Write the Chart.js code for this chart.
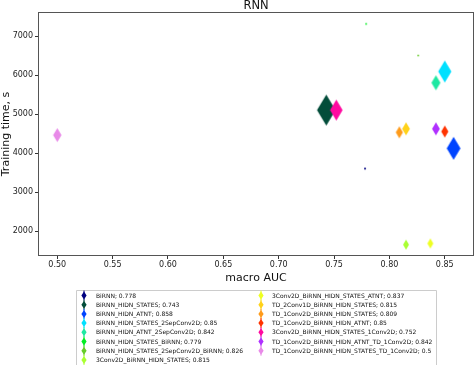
<!DOCTYPE html>
<html><head><meta charset="utf-8">
<script src="https://cdn.jsdelivr.net/npm/chart.js@4/dist/chart.umd.min.js"></script>
<style>html,body{margin:0;padding:0;background:#fff}canvas{display:block}</style>
</head><body>
<canvas id="c" width="474" height="365"></canvas>
<script>
const modelNames = [
  'BiRNN', 'BiRNN_HIDN_STATES', 'BiRNN_HIDN_ATNT', 'BiRNN_HIDN_STATES_2SepConv2D',
  'BiRNN_HIDN_ATNT_2SepConv2D', 'BiRNN_HIDN_STATES_BiRNN', 'BiRNN_HIDN_STATES_2SepConv2D_BiRNN',
  '3Conv2D_BiRNN_HIDN_STATES', '3Conv2D_BiRNN_HIDN_STATES_ATNT', 'TD_2Conv1D_BiRNN_HIDN_STATES',
  'TD_1Conv2D_BiRNN_HIDN_STATES', 'TD_1Conv2D_BiRNN_HIDN_ATNT', '3Conv2D_BiRNN_HIDN_STATES_1Conv2D',
  'TD_1Conv2D_BiRNN_HIDN_ATNT_TD_1Conv2D', 'TD_1Conv2D_BiRNN_HIDN_STATES_TD_1Conv2D'
];
const macroAUC = [0.778, 0.743, 0.858, 0.85, 0.842, 0.779, 0.826, 0.815, 0.837, 0.815, 0.809, 0.85, 0.752, 0.842, 0.5];
const trainingTime = [3600, 5100, 4120, 6090, 5800, 7310, 6500, 1650, 1680, 4620, 4530, 4550, 5100, 4620, 4460];
// third variable encoded by marker size (relative)
const sizeVariable = [3, 31, 23, 22, 15, 2.5, 2.5, 10, 10, 13, 12, 12, 21, 13, 14];
const seriesColors = ['#000080', '#034d3a', '#0044ff', '#00e0ff', '#1ee8a2', '#00ee22', '#66cc2a', '#aaff33',
  '#eeff22', '#ffd21a', '#ff9b1a', '#ff3300', '#ff0aa0', '#b030ff', '#e88ae8'];
const xTickValues = [0.50, 0.55, 0.60, 0.65, 0.70, 0.75, 0.80, 0.85];
const yTickValues = [2000, 3000, 4000, 5000, 6000, 7000];
const chartTitle = 'RNN';
const xTitle = 'macro AUC';
const yTitle = 'Training time, s';

const FONT = "'DejaVu Sans', sans-serif";

function diamond(h, color) {
  const w = Math.max(2, h * 0.6);
  const c = document.createElement('canvas');
  c.width = Math.ceil(w) + 2; c.height = Math.ceil(h) + 2;
  const g = c.getContext('2d');
  const cx = c.width / 2, cy = c.height / 2;
  g.fillStyle = color;
  g.beginPath();
  g.moveTo(cx, cy - h / 2); g.lineTo(cx + w / 2, cy); g.lineTo(cx, cy + h / 2); g.lineTo(cx - w / 2, cy);
  g.closePath(); g.fill();
  return c;
}

const datasets = modelNames.map((name, i) => ({
  label: name + '; ' + macroAUC[i],
  data: [{x: macroAUC[i], y: trainingTime[i]}],
  pointStyle: diamond(sizeVariable[i], seriesColors[i]),
  pointRadius: 5,
  backgroundColor: seriesColors[i],
  borderColor: seriesColors[i],
  order: -i
}));

const extras = {
  id: 'extras',
  afterDraw(chart) {
    const ctx = chart.ctx, a = chart.chartArea;
    ctx.save();
    // frame
    ctx.strokeStyle = '#555'; ctx.lineWidth = 1;
    ctx.strokeRect(Math.round(a.left) - 0.5, Math.round(a.top) - 0.5, Math.round(a.right - a.left) + 1, Math.round(a.bottom - a.top) + 1);
    // title
    ctx.fillStyle = '#111'; ctx.font = '11.5px ' + FONT; ctx.textAlign = 'center'; ctx.textBaseline = 'alphabetic';
    ctx.fillText(chartTitle, (a.left + a.right) / 2, 8.5);
    // legend box
    ctx.fillStyle = '#fff'; ctx.strokeStyle = '#ccc';
    ctx.beginPath(); ctx.rect(76.5, 290.5, 360, 90); ctx.fill(); ctx.stroke();
    // legend font fit
    ctx.font = '7px ' + FONT;
    const wRef = ctx.measureText(datasets[6].label).width;
    const fs = 7 * 147 / wRef;
    ctx.font = fs.toFixed(2) + 'px ' + FONT;
    ctx.textAlign = 'left'; ctx.textBaseline = 'middle';
    const rows = 8;
    datasets.forEach((d, i) => {
      const col = Math.floor(i / rows), row = i % rows;
      const mx = col === 0 ? 84 : 261;
      const tx = col === 0 ? 96 : 272;
      const y = 295.5 + row * 9.2;
      ctx.strokeStyle = seriesColors[i]; ctx.fillStyle = seriesColors[i]; ctx.lineWidth = 1;
      ctx.beginPath(); ctx.moveTo(mx, y - 5); ctx.lineTo(mx, y + 5); ctx.stroke();
      ctx.beginPath(); ctx.moveTo(mx, y - 4); ctx.lineTo(mx + 2.6, y); ctx.lineTo(mx, y + 4); ctx.lineTo(mx - 2.6, y); ctx.closePath(); ctx.fill();
      ctx.fillStyle = '#111';
      ctx.fillText(d.label, tx, y + 0.5);
    });
    ctx.restore();
  }
};

new Chart(document.getElementById('c'), {
  type: 'scatter',
  data: {datasets},
  options: {
    responsive: false, animation: false,
    layout: {autoPadding: false, padding: {left: 0, right: 1, top: 13, bottom: 80}},
    plugins: {legend: {display: false}, tooltip: {enabled: false}, title: {display: false}},
    scales: {
      x: {
        type: 'linear', min: 0.4835, max: 0.8755,
        afterBuildTicks: s => { s.ticks = xTickValues.map(v => ({value: v})); },
        afterFit: s => { s.height = 30; },
        ticks: {callback: v => Number(v).toFixed(2), font: {family: FONT, size: 8}, color: '#222', padding: 1, autoSkip: false, maxRotation: 0},
        grid: {drawOnChartArea: false, tickLength: 4, color: '#333'},
        border: {display: false},
        title: {display: true, text: xTitle, font: {family: FONT, size: 11}, color: '#111', padding: {top: 1, bottom: 0}}
      },
      y: {
        type: 'linear', min: 1385, max: 7590,
        afterBuildTicks: s => { s.ticks = yTickValues.map(v => ({value: v})); },
        afterFit: s => { s.width = 39; },
        ticks: {callback: v => String(v), font: {family: FONT, size: 8}, color: '#222', padding: 2, autoSkip: false},
        grid: {drawOnChartArea: false, tickLength: 4, color: '#333'},
        border: {display: false},
        title: {display: true, text: yTitle, font: {family: FONT, size: 11}, color: '#111', padding: {top: 0, bottom: 0}}
      }
    }
  },
  plugins: [extras]
});
</script>
</body></html>
